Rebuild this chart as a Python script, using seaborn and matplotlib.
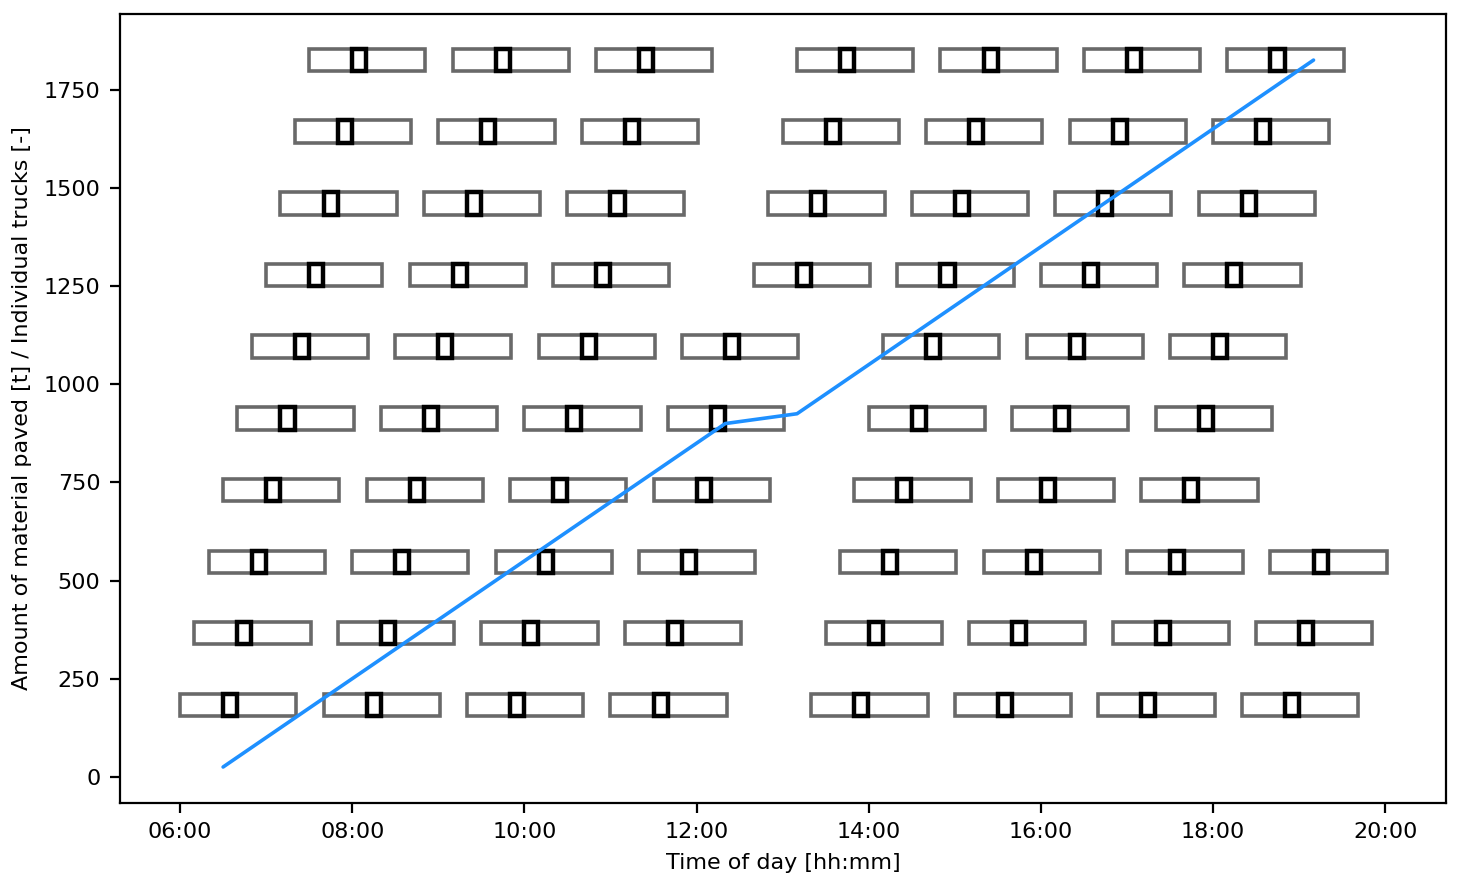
import matplotlib
matplotlib.use("Agg")
import matplotlib.pyplot as plt
import seaborn as sns
import pandas as pd
from matplotlib.ticker import FuncFormatter, MultipleLocator

# Truck rows (cumulative tonnage level of each truck)
truck_levels = [183, 366, 548, 731, 913, 1096, 1279, 1461, 1644, 1826]
# Cycle start times per truck (hh:mm)
truck_starts = [
    ["06:00", "07:40", "09:20", "11:00", "13:20", "15:00", "16:40", "18:20"],
    ["06:10", "07:50", "09:30", "11:10", "13:30", "15:10", "16:50", "18:30"],
    ["06:20", "08:00", "09:40", "11:20", "13:40", "15:20", "17:00", "18:40"],
    ["06:30", "08:10", "09:50", "11:30", "13:50", "15:30", "17:10"],
    ["06:40", "08:20", "10:00", "11:40", "14:00", "15:40", "17:20"],
    ["06:50", "08:30", "10:10", "11:50", "14:10", "15:50", "17:30"],
    ["07:00", "08:40", "10:20", "12:40", "14:20", "16:00", "17:40"],
    ["07:10", "08:50", "10:30", "12:50", "14:30", "16:10", "17:50"],
    ["07:20", "09:00", "10:40", "13:00", "14:40", "16:20", "18:00"],
    ["07:30", "09:10", "10:50", "13:10", "14:50", "16:30", "18:10"],
]
cycle_hours = 1.35
unload_offset_hours = 0.5
unload_hours = 0.163

# Paving progress
paved_time = ["06:30", "12:20", "13:10", "19:10"]
paved_tons = [25, 900, 925, 1826]

def to_h(s):
    h, m = s.split(":")
    return int(h) + int(m) / 60

sns.set_style("white")
plt.rcParams.update({
    "font.family": ["DejaVu Sans"],
    "font.size": 8,
    "text.color": "black",
    "axes.labelcolor": "black",
    "xtick.color": "black",
    "ytick.color": "black",
    "xtick.bottom": True,
    "ytick.left": True,
    "xtick.major.size": 3.5,
    "ytick.major.size": 3.5,
    "xtick.labelsize": 8,
    "ytick.labelsize": 8,
    "axes.labelsize": 8,
})
fig, ax = plt.subplots(figsize=(7.305, 4.43), dpi=200)

bar_h = 57
for lvl, starts in zip(truck_levels, truck_starts):
    st = [to_h(s) for s in starts]
    ax.barh([lvl] * len(st), [cycle_hours] * len(st), left=st, height=bar_h,
            fill=False, edgecolor="dimgray", linewidth=1.3)
    ax.barh([lvl] * len(st), [unload_hours] * len(st),
            left=[s + unload_offset_hours for s in st], height=bar_h,
            fill=False, edgecolor="black", linewidth=1.6)

df = pd.DataFrame({"t": [to_h(s) for s in paved_time], "tons": paved_tons})
sns.lineplot(data=df, x="t", y="tons", ax=ax, color="#1E90FF", linewidth=1.3)

ax.set_xlim(5.30, 20.71)
ax.set_ylim(-66, 1943)
ax.xaxis.set_major_locator(MultipleLocator(2))
ax.xaxis.set_major_formatter(FuncFormatter(lambda v, p: f"{int(round(v)):02d}:00"))
ax.yaxis.set_major_locator(MultipleLocator(250))
ax.set_xlabel("Time of day [hh:mm]")
ax.set_ylabel("Amount of material paved [t] / Individual trucks [-]")
for s in ax.spines.values():
    s.set_visible(True)
    s.set_color("black")
    s.set_linewidth(0.8)
fig.subplots_adjust(left=0.082, right=0.99, top=0.984, bottom=0.094)
fig.savefig("out.png", dpi=200)
